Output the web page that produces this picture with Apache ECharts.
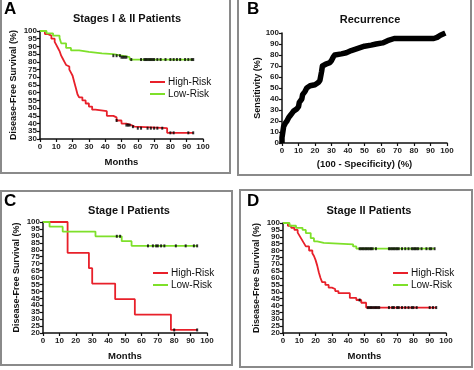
<!DOCTYPE html>
<html><head><meta charset="utf-8">
<script src="https://cdn.jsdelivr.net/npm/echarts@6/dist/echarts.min.js"></script>
<style>html,body{margin:0;padding:0;background:#fff}#c{width:474px;height:370px}</style>
</head><body><div id="c"></div>
<script>
// ---------- Data ----------
const months = [0,10,20,30,40,50,60,70,80,90,100];
// Panel A: Stages I & II
const aHiT = [0,3,5,7,9,10,11,12,13,14,15,16,17,18,19,20,21,22,23,24,26,28,30,32,34,41,45,47,50,53,56,58,78,94];
const aHiS = [100,98,97,95,93,91,89,87,84,82,80,78,77,75,73,71,67,63,59,57,55,53,51,49,48,45,44,42,40,39,38,37,34,34];
const aLoT = [0,4,8,12,13,16,19,24,30,38,45,50,55,94];
const aLoS = [100,98.5,97,95.5,92,89,87.5,86.5,85.5,85,84,83,81.5,81.5];
const aHiC = [47,53,54,55,57,60,62,66,68,70,72,75,80,82,91,94];
const aLoC = [45,47,49,50,51,52,53,56,62,64,65,66,67,68,69,70,72,74,77,80,82,84,86,89,91,93,94];
// Panel B: ROC Recurrence
const rocX = [0,0,0.5,1,2,3,4,5,6,7,9,10,10.5,12,12.5,14,15,17,20,22,23,24,24,24.5,27,29,30,31,32,36,39,42,46,50,54,57,61,64,68,92,94,96,99];
const rocY = [0,5,10,15,18,20,23,25,27,29,31,33,37,40,44,47,50,52,53,55,57,58,65,70,72,73,75,78,80,81,82,84,86,88,89,90,91,93,95,95,96,98,100];
// Panel C: Stage I
const cHiT = [0,15,28,30,44,56,78,94];
const cHiS = [100,77.8,66.7,55.6,44.4,33.3,22.2,22.2];
const cHiC = [80,94];
const cLoT = [0,4,12,32,48,54,94];
const cLoS = [100,96.6,93.1,89.7,86.2,82.8,82.8];
const cLoC = [45,47,64,67,69,70,72,74,81,87,92,94];
// Panel D: Stage II
const dHiT = [0,3,5,7,9,10,11,12,13,14,16,18,19,20,21,22,23,24,26,28,30,32,34,41,45,48,51,94];
const dHiS = [100,98,96.5,95,93,91,89,87,85,83,80,78,76,73,69,64,60,57,55,53,52,50.5,49,45.5,44,42,38.5,38.5];
const dLoT = [0,4,8,12,14,17,19,21,25,43,45,93];
const dLoS = [100,98,96.5,95,92.7,89,86.7,85.5,84.5,83,81.3,81.3];
const dHiC = [47,52,53,54,55,56,57,58,59,65,67,68,70,71,73,75,77,79,80,82,90,92,94];
const dLoC = [47,48,49,50,51,52,53,54,55,57,65,66,67,68,69,70,71,73,75,77,79,80,81,82,83,85,88,90,91,93];

const titles = ['Stages I & II Patients','Recurrence','Stage I Patients','Stage II Patients'];
const letters = ['A','B','C','D'];
const legendNames = ['High-Risk','Low-Risk'];

// ---------- Helpers ----------
const RED = '#e8202a', GREEN = '#7ee02a';
const FONT = '"Liberation Sans", Arial, sans-serif';
function pairs(t, s){ return t.map((v,i)=>[v, s[i]]); }
function stepAt(t, s, x){ let y = s[0]; for (let i=0;i<t.length;i++){ if (t[i] <= x) y = s[i]; } return y; }
function cens(t, s, c){ return c.map(x => [x, stepAt(t, s, x)]); }

const grids = [
  {left:40, top:31, width:163, height:108},
  {left:282, top:33, width:165, height:110},
  {left:43, top:222, width:164, height:111},
  {left:283, top:223, width:163, height:110}
];
const yMins = [30, 0, 20, 20];
const yInts = [5, 10, 5, 5];
const yNames = ['Disease-Free Survival (%)','Sensitivity (%)','Disease-Free Survival (%)','Disease-Free Survival (%)'];
const xNames = ['Months','(100 - Specificity) (%)','Months','Months'];

const axisCommon = {
  axisLine:{show:true, onZero:false, lineStyle:{color:'#111', width:1.5}},
  axisTick:{show:true, length:3, lineStyle:{color:'#111', width:1.2}},
  splitLine:{show:false},
  nameTextStyle:{fontFamily:FONT, fontWeight:'bold', fontSize:9.5, color:'#111'}
};
const labelStyle = {fontFamily:FONT, fontWeight:'bold', fontSize:8, color:'#222'};

const xAxis = grids.map((g,i)=>Object.assign({}, axisCommon, {
  type:'value', gridIndex:i, min:0, max:100, interval:10,
  name:xNames[i], nameLocation:'middle', nameGap:i===1?16:18,
  axisLabel:Object.assign({margin:4, showMinLabel:true, showMaxLabel:true}, labelStyle)
}));
// labels next to min/max are drawn by a companion axis so that none get hidden by overlap logic
function isNeighbour(i, v){ return yInts[i] === 5 && (v === yMins[i] + yInts[i] || v === 100 - yInts[i]); }
const yAxis = grids.map((g,i)=>Object.assign({}, axisCommon, {
  type:'value', gridIndex:i, min:yMins[i], max:100, interval:yInts[i],
  name:yNames[i], nameLocation:'middle', nameGap:i===1?20:22,
  nameTextStyle:{fontFamily:FONT, fontWeight:'bold', fontSize:9, color:'#111'},
  axisLabel:Object.assign({margin:3, showMinLabel:true, showMaxLabel:true,
    formatter:v => isNeighbour(i, v) ? '' : String(v)}, labelStyle)
}));
[0,2,3].forEach(i=>{
  yAxis.push({type:'value', gridIndex:i, min:yMins[i], max:100, interval:yInts[i], position:'left',
    axisLine:{show:false, onZero:false}, axisTick:{show:false}, splitLine:{show:false},
    axisLabel:Object.assign({margin:3, showMinLabel:true, showMaxLabel:true,
      formatter:v => isNeighbour(i, v) ? String(v) : ''}, labelStyle)});
});

function kmLine(name, t, s, color, gi){
  return {type:'line', name:name, xAxisIndex:gi, yAxisIndex:gi, step:'end', data:pairs(t,s),
    showSymbol:false, symbol:'none', lineStyle:{color:color, width:1.8}, itemStyle:{color:color}, animation:false, z:2};
}
function censor(id, t, s, c, gi){
  return {type:'scatter', name:id, xAxisIndex:gi, yAxisIndex:gi, data:cens(t,s,c),
    symbol:'rect', symbolSize:[2,3], itemStyle:{color:'#000'}, animation:false, z:3};
}

const series = [
  kmLine('High-Risk', aHiT, aHiS, RED, 0),
  kmLine('Low-Risk', aLoT, aLoS, GREEN, 0),
  censor('cA1', aHiT, aHiS, aHiC, 0),
  censor('cA2', aLoT, aLoS, aLoC, 0),
  {type:'line', name:'ROC', xAxisIndex:1, yAxisIndex:1, data:pairs(rocX, rocY), showSymbol:false, symbol:'none',
    lineStyle:{color:'#000', width:5.5, join:'round'}, animation:false},
  kmLine('High-Risk', cHiT, cHiS, RED, 2),
  kmLine('Low-Risk', cLoT, cLoS, GREEN, 2),
  censor('cC1', cHiT, cHiS, cHiC, 2),
  censor('cC2', cLoT, cLoS, cLoC, 2),
  kmLine('High-Risk', dHiT, dHiS, RED, 3),
  kmLine('Low-Risk', dLoT, dLoS, GREEN, 3),
  censor('cD1', dHiT, dHiS, dHiC, 3),
  censor('cD2', dLoT, dLoS, dLoC, 3)
];

const legendPos = [{left:145, top:72},{left:148, top:263},{left:388, top:263}];
const legend = legendPos.map(p=>({
  data:legendNames, left:p.left, top:p.top, orient:'vertical', itemWidth:15, itemHeight:2, itemGap:2,
  icon:'rect', selectedMode:false,
  textStyle:{fontFamily:FONT, fontSize:10, color:'#111', padding:[0,0,0,-2]}
}));

const titleCenters = [[122,8],[365,9],[124,200],[364,200]];
const title = titles.map((t,i)=>({
  text:t, left:titleCenters[i][0], top:titleCenters[i][1], textAlign:'center',
  textStyle:{fontFamily:FONT, fontWeight:'bold', fontSize:11, color:'#111'}
}));

const boxes = [[1,-2,229,175],[238,-2,233,177],[1,191,231,174],[240,190,232,177]];
const letterPos = [[4,1],[247,1],[4,193],[247,193]];
const graphic = boxes.map(b=>({type:'rect', shape:{x:b[0], y:b[1], width:b[2], height:b[3]},
  style:{fill:'none', stroke:'#8a8a8a', lineWidth:2}, silent:true}))
 .concat(letters.map((l,i)=>({type:'text', left:letterPos[i][0], top:letterPos[i][1],
  style:{text:l, fontFamily:FONT, fontWeight:'bold', fontSize:17, fill:'#000'}})));

const chart = echarts.init(document.getElementById('c'), null, {renderer:'canvas'});
chart.setOption({
  backgroundColor:'#fff', animation:false,
  title:title, legend:legend, grid:grids, xAxis:xAxis, yAxis:yAxis, series:series, graphic:graphic
});
</script></body></html>
